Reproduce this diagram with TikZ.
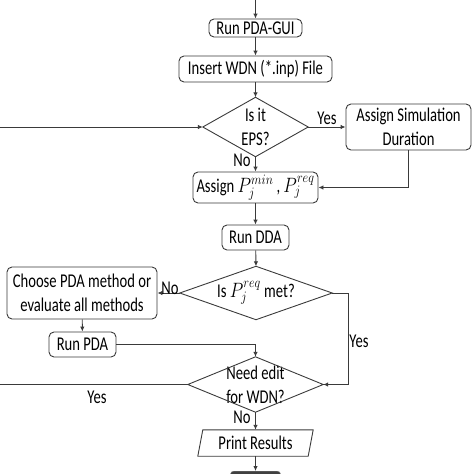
\documentclass[tikz,border=0pt]{standalone}
\usepackage{fontspec}
\usepackage{graphicx}
\setmainfont[FakeStretch=0.75]{Carlito}
\usetikzlibrary{arrows.meta}
\definecolor{ln}{HTML}{3A3A3A}
\tikzset{
  base/.style={font=\fontsize{19.5}{24}\selectfont, text=black, inner sep=0pt, align=center},
  proc/.style={base, draw=ln, line width=0.9pt, rounded corners=5pt},
  dtext/.style={base},
  lbl/.style={base},
  conn/.style={draw=ln, line width=0.9pt},
  arr/.style={conn, -{Latex[length=5pt,width=4.5pt]}},
  dia/.style={draw=ln, line width=0.9pt}
}
\newcommand{\mP}[1]{\scalebox{0.85}[1]{$P_j^{#1}$}}
\begin{document}
\begin{tikzpicture}[x=1pt,y=-1pt]
\useasboundingbox (0,0) rectangle (474,474);
% nodes
\node[proc, minimum width=93, minimum height=18] (gui) at (255.5,28) {Run PDA-GUI};
\node[proc, minimum width=153, minimum height=26] (wdn) at (255.5,69) {Insert WDN (*.inp) File};
\node[dtext, minimum width=105, minimum height=59] (eps) at (255.5,127) {Is it\\EPS?};
\draw[dia] (eps.north) -- (eps.east) -- (eps.south) -- (eps.west) -- cycle;
\node[proc, minimum width=125, minimum height=46] (sim) at (408.5,127) {Assign Simulation\\Duration};
\node[proc, minimum width=125, minimum height=31] (asp) at (255.5,187.5) {Assign \mP{min}\,,\,\mP{req}};
\node[proc, minimum width=67, minimum height=25] (dda) at (255.5,237.5) {Run DDA};
\node[dtext, minimum width=152, minimum height=53] (met) at (256,293) {Is \mP{req} met?};
\draw[dia] (met.north) -- (met.east) -- (met.south) -- (met.west) -- cycle;
\node[proc, minimum width=150, minimum height=52] (cho) at (82,293) {Choose PDA method or\\evaluate all methods};
\node[proc, minimum width=67, minimum height=25] (rpda) at (82.5,344.5) {Run PDA};
\node[dtext, minimum width=135, minimum height=55] (edit) at (255.5,384.5) {Need edit\\for WDN?};
\draw[dia] (edit.north) -- (edit.east) -- (edit.south) -- (edit.west) -- cycle;
\node[base, minimum width=110, minimum height=26] (prt) at (255.5,443) {Print Results};
\draw[dia] ([xshift=2.5pt]prt.north west) -- ([xshift=2.5pt]prt.north east) -- ([xshift=-2.5pt]prt.south east) -- ([xshift=-2.5pt]prt.south west) -- cycle;
\node[base, draw=gray, fill=black!75, rounded corners=3pt, minimum width=50, minimum height=20, anchor=north] (end) at (255.5,471) {};
% free ends
\coordinate (top) at (255.5,0);
\coordinate (lin) at (0,127);
\coordinate (lout) at (0,384.5);
\coordinate (sb) at (408.5,187.5);
\coordinate (mr) at (348,293);
\coordinate (er) at (348,384.5);
% connectors
\draw[arr] (top) -- (gui.north);
\draw[arr] (gui) -- (wdn);
\draw[arr] (wdn) -- (eps.north);
\draw[arr] (eps.east) -- (sim.west);
\draw[arr] (lin) -- (eps.west);
\draw[arr] (eps.south) -- (asp.north);
\draw[arr] (sim.south) -- (sb) -- (asp.east);
\draw[arr] (asp) -- (dda);
\draw[arr] (dda) -- (met.north);
\draw[arr] (met.west) -- (cho.east);
\draw[arr] (cho) -- (rpda);
\draw[arr] (rpda.east) -| (edit.north);
\draw[arr] (met.east) -- (mr) -- (er) -- (edit.east);
\draw[conn] (edit.west) -- (lout);
\draw[arr] (edit.south) -- (prt.north);
\draw[arr] (prt.south) -- (end.north);
% labels
\node[lbl] (l1) at (327,118) {Yes};
\node[lbl] (l2) at (242,160) {No};
\node[lbl] (l3) at (170,288) {No};
\node[lbl] (l4) at (359,341) {Yes};
\node[lbl] (l5) at (97,397) {Yes};
\node[lbl] (l6) at (242,417) {No};
\end{tikzpicture}
\end{document}
